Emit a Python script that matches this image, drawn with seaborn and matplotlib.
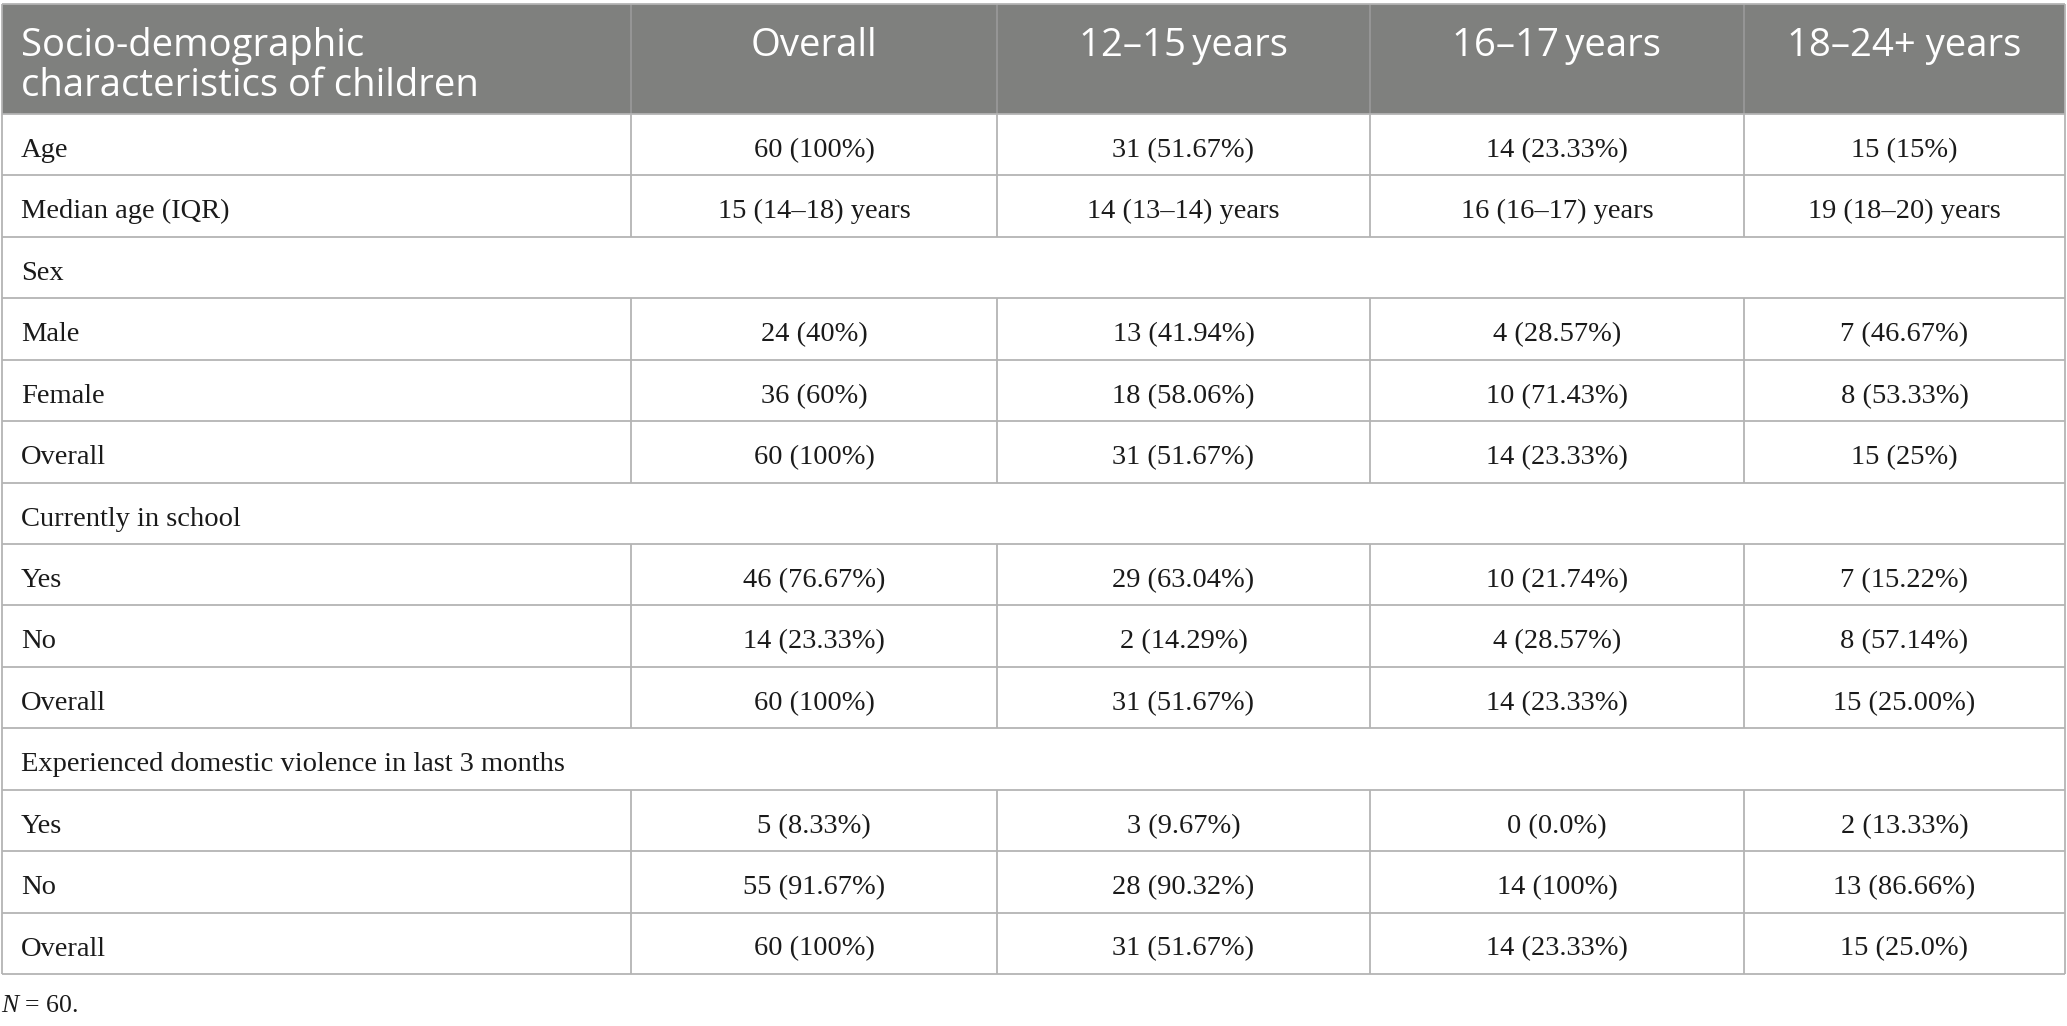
import pandas as pd
import seaborn as sns
import matplotlib.pyplot as plt

# table contents
columns = ["Socio-demographic\ncharacteristics of children", "Overall",
           "12\u201315\u2009years", "16\u201317\u2009years", "18\u201324+ years"]
row_labels = ["Age", "Median age (IQR)", "Sex", "Male", "Female", "Overall",
              "Currently in school", "Yes", "No", "Overall",
              "Experienced domestic violence in last 3 months", "Yes", "No", "Overall"]
overall = ["60 (100%)", "15 (14\u201318) years", "", "24 (40%)", "36 (60%)", "60 (100%)",
           "", "46 (76.67%)", "14 (23.33%)", "60 (100%)",
           "", "5 (8.33%)", "55 (91.67%)", "60 (100%)"]
age_12_15 = ["31 (51.67%)", "14 (13\u201314) years", "", "13 (41.94%)", "18 (58.06%)", "31 (51.67%)",
             "", "29 (63.04%)", "2 (14.29%)", "31 (51.67%)",
             "", "3 (9.67%)", "28 (90.32%)", "31 (51.67%)"]
age_16_17 = ["14 (23.33%)", "16 (16\u201317) years", "", "4 (28.57%)", "10 (71.43%)", "14 (23.33%)",
             "", "10 (21.74%)", "4 (28.57%)", "14 (23.33%)",
             "", "0 (0.0%)", "14 (100%)", "14 (23.33%)"]
age_18_24 = ["15 (15%)", "19 (18\u201320) years", "", "7 (46.67%)", "8 (53.33%)", "15 (25%)",
             "", "7 (15.22%)", "8 (57.14%)", "15 (25.00%)",
             "", "2 (13.33%)", "13 (86.66%)", "15 (25.0%)"]
section_rows = ["Sex", "Currently in school", "Experienced domestic violence in last 3 months"]
footnote = "$N$ = 60."

df = pd.DataFrame({columns[0]: row_labels, columns[1]: overall, columns[2]: age_12_15,
                   columns[3]: age_16_17, columns[4]: age_18_24})

sns.set_theme(style="white")
plt.rcParams['mathtext.fontset'] = 'custom'
plt.rcParams['mathtext.it'] = 'Liberation Serif:italic'
plt.rcParams['mathtext.rm'] = 'Liberation Serif'

# layout in pixels
W, H = 2067, 1026
col_edges = [2, 631, 997, 1370, 1744, 2065]
head_top, head_bot, table_bot = 4, 114, 974
row_h = (table_bot - head_bot) / len(df)
head_col = "#7f807e"
line_col = "#b4b4b4"
serif = ["Liberation Serif", "DejaVu Serif"]
sans = ["Open Sans", "DejaVu Sans"]
txt_col = "#1a1a1a"

fig = plt.figure(figsize=(W / 100, H / 100), dpi=100)
ax = fig.add_axes([0, 0, 1, 1])
ax.set_xlim(0, W)
ax.set_ylim(H, 0)
ax.axis("off")

# header band
ax.fill_between([col_edges[0], col_edges[-1]], head_top, head_bot, color=head_col, lw=0)
ax.vlines(col_edges[1:-1], head_top, head_bot, color="#9a9a9a", lw=1.2)
for i, c in enumerate(df.columns):
    for k, ln in enumerate(c.split("\n")):
        if i == 0:
            ax.text(21, 56 + k * 40, ln, color="white", fontsize=27.5, family=sans,
                    ha="left", va="baseline")
        else:
            xc = (col_edges[i] + col_edges[i + 1]) / 2
            ax.text(xc, 56 + k * 40, ln, color="white", fontsize=27.5, family=sans,
                    ha="center", va="baseline")

# body
for r, row in df.iterrows():
    y0 = head_bot + r * row_h
    ax.hlines(y0 + row_h, col_edges[0], col_edges[-1], color=line_col, lw=1.3)
    label = row.iloc[0]
    ax.text(21, y0 + 0.70 * row_h, label, fontsize=20.5, family=serif, color=txt_col,
            ha="left", va="baseline")
    if label in section_rows and r in (2, 6, 10):
        continue
    ax.vlines(col_edges[1:-1], y0, y0 + row_h, color=line_col, lw=1.3)
    for i in range(1, len(df.columns)):
        xc = (col_edges[i] + col_edges[i + 1]) / 2
        ax.text(xc, y0 + 0.70 * row_h, row.iloc[i], fontsize=20.5, family=serif,
                color=txt_col, ha="center", va="baseline")

# outer border
ax.vlines([col_edges[0], col_edges[-1]], head_top, table_bot, color=line_col, lw=1.3)
ax.hlines([head_top, head_bot], col_edges[0], col_edges[-1], color=line_col, lw=1.3)

ax.text(1, 1012, footnote, fontsize=18.5, family=serif, color=txt_col,
        ha="left", va="baseline")

fig.savefig("out.png", dpi=100)
